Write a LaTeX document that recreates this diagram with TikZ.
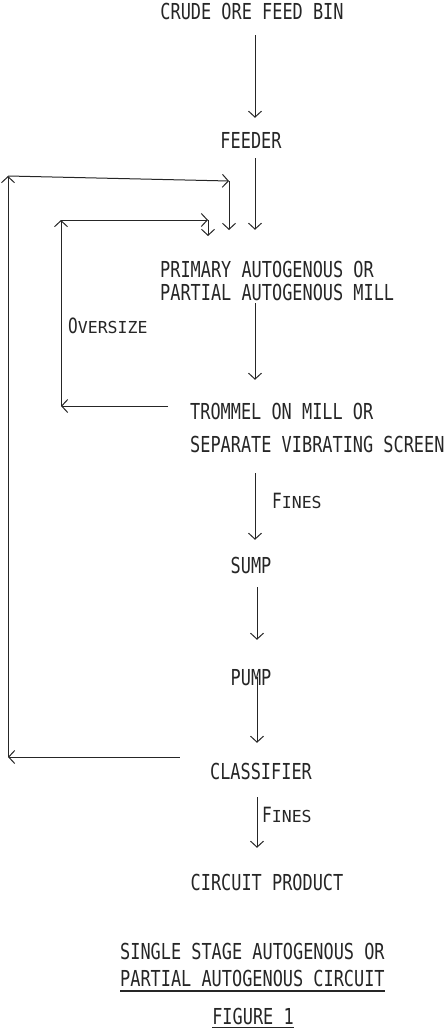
\documentclass[tikz,border=0pt]{standalone}
\usepackage{fontspec}
\newfontfamily\lett[FakeStretch=0.768]{DejaVu Sans Mono}
\newfontfamily\lettsc[FakeStretch=1.0]{DejaVu Sans Mono}
\usetikzlibrary{arrows.meta}
\newcommand\sclbl[2]{{\fontsize{21}{21}\selectfont\lett #1}{\fontsize{16.5}{16.5}\selectfont\lettsc #2}}
\begin{document}
\begin{tikzpicture}[x=1pt,y=-1pt,
  lbl/.style={inner sep=0pt, font=\fontsize{22}{22}\selectfont\lett, text height=16pt, text depth=0pt, text=black!85},
  sml/.style={inner sep=0pt, text=black!85},
  arr/.style={line width=1pt, draw=black!85, -{Straight Barb[length=6pt,width=13pt,line width=1pt]}},
  ln/.style={line width=1pt, draw=black!85}
]
\useasboundingbox[fill=white] (0,0) rectangle (444,1030);
\coordinate (sp) at (255,0);
\coordinate (sq) at (257,0);
% main nodes
\node[lbl, anchor=base] (bin) at (252,20) {CRUDE ORE FEED BIN};
\node[lbl, anchor=base] (feeder) at (251,149) {FEEDER};
\node[lbl, anchor=base west] (mill) at (160,277) {PRIMARY AUTOGENOUS OR};
\node[lbl, anchor=base west] (millb) at (160,300) {PARTIAL AUTOGENOUS MILL};
\node[lbl, anchor=base west] (trommel) at (190,419) {TROMMEL ON MILL OR};
\node[lbl, anchor=base west] (trommelb) at (190,452) {SEPARATE VIBRATING SCREEN};
\node[lbl, anchor=base] (sump) at (251,573) {SUMP};
\node[lbl, anchor=base] (pump) at (251,685) {PUMP};
\node[lbl, anchor=base] (classifier) at (261,779) {CLASSIFIER};
\node[lbl, anchor=base] (product) at (267,890) {CIRCUIT PRODUCT};
% labels
\node[sml, anchor=base west] (over) at (68,333) {\sclbl{O}{VERSIZE}};
\node[sml, anchor=base west] (fines1) at (272,508) {\sclbl{F}{INES}};
\node[sml, anchor=base west] (fines2) at (262,822) {\sclbl{F}{INES}};
% main line
\draw[arr, shorten <=15pt, shorten >=15pt] (bin.south -| sp) -- (feeder.north -| sp);
\draw[arr, shorten <=9pt, shorten >=31pt] (feeder.south -| sp) -- (mill.north -| sp);
\draw[arr, shorten <=3pt, shorten >=23pt] (millb.south -| sp) -- (trommel.north -| sp);
\draw[arr, shorten <=21pt, shorten >=17pt] (trommelb.south -| sp) -- (sump.north -| sp);
\draw[arr, shorten <=14pt, shorten >=29pt] (sump.south -| sq) -- (pump.north -| sq);
\draw[arr, shorten >=20pt] (pump.center -| sq) -- (classifier.north -| sq);
\draw[arr, shorten <=18pt, shorten >=26pt] (classifier.south -| sq) -- (product.north -| sq);
% outer recycle loop
\coordinate (ob) at (8,757);
\coordinate (ot) at (8,176);
\coordinate (otr) at (229,181);
\coordinate (in1) at (229,230);
\draw[arr, shorten <=30pt] (classifier.west |- ob) -- (ob);
\draw[arr] (ob) -- (ot);
\draw[arr] (ot) -- (otr);
\draw[arr] (otr) -- (in1);
% inner oversize loop
\coordinate (ib) at (61,406);
\coordinate (it) at (61,220);
\coordinate (itr) at (208,220);
\coordinate (in2) at (208,236);
\draw[arr, shorten <=22pt] (trommel.west |- ib) -- (ib);
\draw[arr] (ib) -- (it);
\draw[arr] (it) -- (itr);
\draw[arr] (itr) -- (in2);
% caption
\node[lbl, anchor=base west] (cap1) at (120,959) {SINGLE STAGE AUTOGENOUS OR};
\node[lbl, anchor=base west] (cap2) at (120,986) {PARTIAL AUTOGENOUS CIRCUIT};
\draw[ln, line width=1.6pt] ([yshift=-5pt]cap2.south west) -- ([yshift=-5pt]cap2.south east);
\node[lbl, anchor=base] (fig) at (253,1024) {FIGURE 1};
\draw[ln] ([yshift=-3.5pt]fig.south west) -- ([yshift=-3.5pt]fig.south east);
\end{tikzpicture}
\end{document}
